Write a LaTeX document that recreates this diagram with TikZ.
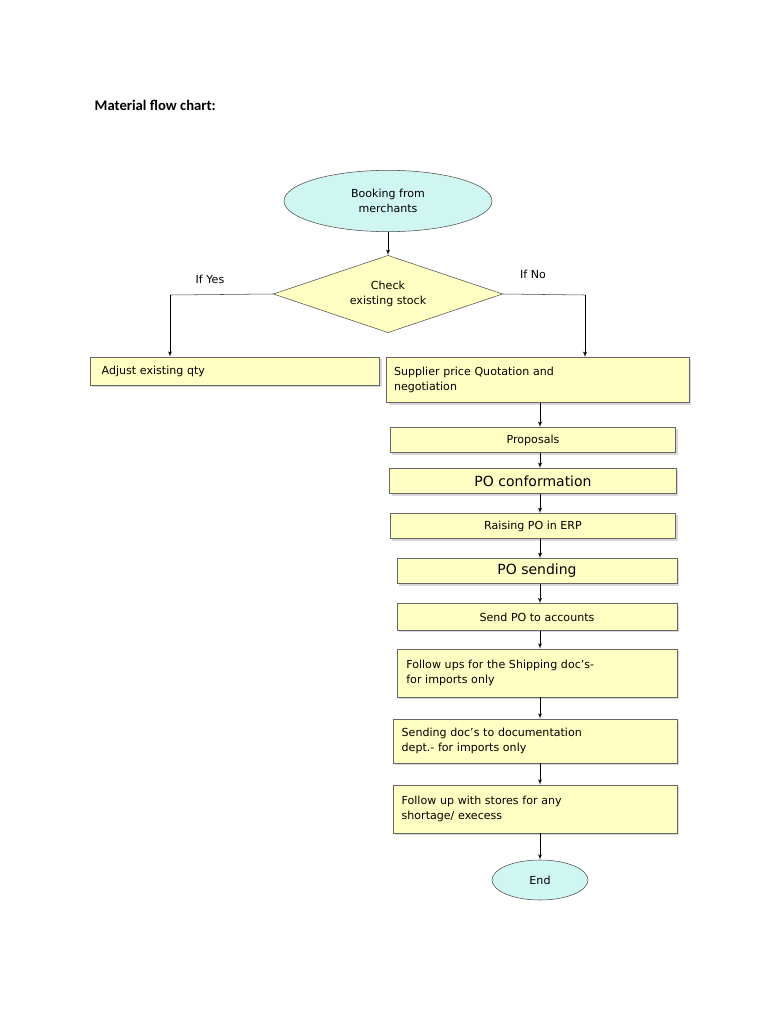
\documentclass[tikz,border=0pt]{standalone}
\usepackage{fontspec}
\setmainfont{DejaVu Sans}
\newfontfamily\titlefont{Carlito}
\usetikzlibrary{shapes,arrows,shadows,positioning}
\definecolor{boxfill}{RGB}{255,255,196}
\definecolor{ovalfill}{RGB}{208,246,242}
\tikzstyle{block} = [rectangle, draw=gray!80!black, fill=boxfill, font=\fontsize{8.3}{11}\selectfont,
    inner sep=3pt, drop shadow={shadow xshift=1.5pt, shadow yshift=-1.5pt, fill=gray!60}]
\tikzstyle{term} = [ellipse, draw=gray!60!black, fill=ovalfill, font=\fontsize{8.3}{11}\selectfont, align=center]
\tikzstyle{decision} = [diamond, draw=gray!60!black, fill=boxfill, aspect=3, font=\fontsize{8.3}{11}\selectfont, align=center, inner sep=0pt]
\tikzstyle{line} = [draw, -latex']
\begin{document}
\begin{tikzpicture}[x=0.75pt, y=-0.75pt]
      \useasboundingbox (0,0) rectangle (768,1024);
      \node [anchor=west, font=\titlefont\bfseries\fontsize{11}{13}\selectfont] (title) at (90,105) {Material flow chart:};
      % Top
      \node [term, minimum width=156pt, minimum height=46pt] (booking) at (388,201) {Booking from\\merchants};
      \node [decision, minimum width=172pt, minimum height=58pt] (check) at (388,294) {Check\\existing stock};
      \node [block, minimum width=217pt, minimum height=21pt, text width=200pt, align=left] (adjust) at (235,371) {Adjust existing qty};
      \node [block, minimum width=227pt, minimum height=34pt, text width=216pt, align=left] (quotation) at (538,380) {Supplier price Quotation and\\negotiation};
      % Right column
      \node [block, minimum width=214pt, minimum height=19pt, align=center] (proposals) at (533,440) {Proposals};
      \node [block, minimum width=215pt, minimum height=19pt, align=center, font=\fontsize{10.5}{12}\selectfont] (poconf) at (533,481) {PO conformation};
      \node [block, minimum width=214pt, minimum height=19pt, align=center] (erp) at (533,526) {Raising PO in ERP};
      \node [block, minimum width=210pt, minimum height=19pt, align=center, font=\fontsize{10.5}{12}\selectfont] (posend) at (537,571) {PO sending};
      \node [block, minimum width=210pt, minimum height=20pt, align=center] (accounts) at (537,617) {Send PO to accounts};
      \node [block, minimum width=210pt, minimum height=36pt, text width=196pt, align=left] (shipping) at (537,673) {Follow ups for the Shipping doc’s-\\for imports only};
      \node [block, minimum width=213pt, minimum height=33pt, text width=200pt, align=left] (docs) at (535,741) {Sending doc’s to documentation\\dept.- for imports only};
      \node [block, minimum width=213pt, minimum height=36pt, text width=200pt, align=left] (stores) at (535,809) {Follow up with stores for any\\shortage/ execess};
      \node [term, minimum width=72pt, minimum height=30pt] (end) at (540,880) {End};
      \coordinate (yes) at (170,295);
      \coordinate (no) at (585,295);
      \node [font=\fontsize{8.3}{10}\selectfont] (yeslbl) at (210,279) {If Yes};
      \node [font=\fontsize{8.3}{10}\selectfont] (nolbl) at (533,274) {If No};
      % Draw edges
      \path [line] (booking) -- (check);
      \draw [gray!60!black] (check.west) -- (yes);
      \path [line] (yes) -- (yes |- adjust.north);
      \draw [gray!60!black] (check.east) -- (no);
      \path [line] (no) -- (no |- quotation.north);
      \path [line] (quotation.south -| end) -- (proposals.north -| end);
      \path [line] (proposals.south -| end) -- (poconf.north -| end);
      \path [line] (poconf.south -| end) -- (erp.north -| end);
      \path [line] (erp.south -| end) -- (posend.north -| end);
      \path [line] (posend.south -| end) -- (accounts.north -| end);
      \path [line] (accounts.south -| end) -- (shipping.north -| end);
      \path [line] (shipping.south -| end) -- (docs.north -| end);
      \path [line] (docs.south -| end) -- (stores.north -| end);
      \path [line] (stores.south -| end) -- (end);
\end{tikzpicture}
\end{document}
